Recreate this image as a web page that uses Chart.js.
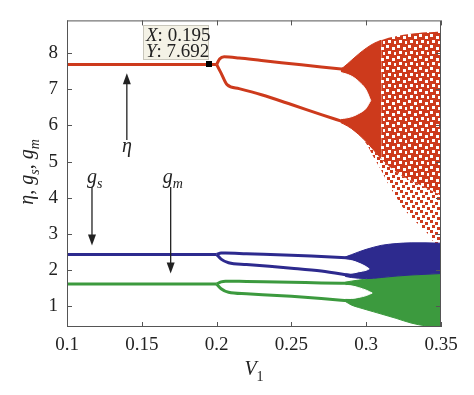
<!DOCTYPE html>
<html>
<head>
<meta charset="utf-8">
<script src="https://cdn.jsdelivr.net/npm/chart.js"></script>
<style>
  html, body { margin: 0; padding: 0; background: #fff; }
  #wrap { width: 474px; height: 395px; }
</style>
</head>
<body>
<div id="wrap"><canvas id="chart" width="474" height="395"></canvas></div>
<script>
// axis ticks
var X_TICKS = [0.1, 0.15, 0.2, 0.25, 0.3, 0.35];
var Y_TICKS = [1, 2, 3, 4, 5, 6, 7, 8];

// period-1 branch, V1 up to 0.2
var P1_V1 = [0.1, 0.2];
var P1_ETA = [7.692, 7.692];
var P1_GS = [2.43, 2.43];
var P1_GM = [1.61, 1.61];

// eta, period-2 branches
var ETA_UP_V1 = [0.200, 0.202, 0.205, 0.215, 0.23, 0.25, 0.27, 0.285];
var ETA_UP = [7.69, 7.84, 7.90, 7.87, 7.80, 7.71, 7.62, 7.56];
var ETA_LO_V1 = [0.200, 0.203, 0.207, 0.215, 0.23, 0.25, 0.27, 0.285];
var ETA_LO = [7.69, 7.45, 7.13, 7.02, 6.85, 6.58, 6.30, 6.10];

// eta, chaotic band: solid part then dotted part
var ETA_CH_V1 = [0.283, 0.285, 0.29, 0.295, 0.30, 0.305, 0.31];
var ETA_CH_TOP = [7.57, 7.62, 7.80, 7.98, 8.14, 8.27, 8.36];
var ETA_CH_BOT = [6.08, 6.04, 5.92, 5.75, 5.55, 5.32, 5.08];
var ETA_CH2_V1 = [0.31, 0.315, 0.32, 0.325, 0.33, 0.335, 0.34, 0.345, 0.35];
var ETA_CH2_TOP = [8.36, 8.43, 8.47, 8.51, 8.54, 8.56, 8.58, 8.59, 8.60];
var ETA_CH2_BOT = [5.08, 4.88, 4.72, 4.58, 4.47, 4.37, 4.27, 4.17, 4.05];
// lowest scattered eta points
var ETA_MIN_V1 = [0.295, 0.30, 0.305, 0.31, 0.315, 0.32, 0.325, 0.33, 0.335, 0.34, 0.345, 0.35];
var ETA_MIN_TOP = [5.75, 5.55, 5.32, 5.08, 4.88, 4.72, 4.58, 4.47, 4.37, 4.27, 4.17, 4.05];
var ETA_MIN = [5.75, 5.50, 5.12, 4.76, 4.36, 4.02, 3.70, 3.46, 3.26, 3.06, 2.78, 2.55];
// empty region inside the eta loop
var ETA_HOLE_V1 = [0.28, 0.29, 0.295, 0.30, 0.303];
var ETA_HOLE_TOP = [7.50, 7.37, 7.22, 6.98, 6.69];
var ETA_HOLE_BOT = [6.17, 6.24, 6.33, 6.48, 6.69];

// g_s
var GS_UP_V1 = [0.200, 0.203, 0.206, 0.22, 0.25, 0.27, 0.29];
var GS_UP = [2.43, 2.47, 2.47, 2.45, 2.41, 2.37, 2.33];
var GS_LO_V1 = [0.200, 0.203, 0.208, 0.22, 0.25, 0.27, 0.29];
var GS_LO = [2.43, 2.30, 2.20, 2.15, 2.05, 1.97, 1.84];
var CH_V1 = [0.286, 0.29, 0.295, 0.30, 0.305, 0.31, 0.315, 0.32, 0.33, 0.34, 0.35];
var GS_CH_TOP = [2.36, 2.42, 2.50, 2.57, 2.63, 2.68, 2.71, 2.73, 2.75, 2.75, 2.74];
var GS_CH_BOT = [1.82, 1.79, 1.77, 1.76, 1.77, 1.79, 1.81, 1.83, 1.86, 1.88, 1.90];
var GS_HOLE_V1 = [0.28, 0.29, 0.295, 0.30, 0.302];
var GS_HOLE_TOP = [2.31, 2.26, 2.19, 2.09, 2.03];
var GS_HOLE_BOT = [1.94, 1.91, 1.95, 1.99, 2.03];

// g_m
var GM_UP_V1 = [0.200, 0.203, 0.206, 0.22, 0.25, 0.27, 0.29];
var GM_UP = [1.61, 1.67, 1.69, 1.68, 1.66, 1.64, 1.63];
var GM_LO_V1 = [0.200, 0.203, 0.208, 0.22, 0.25, 0.27, 0.29];
var GM_LO = [1.61, 1.48, 1.38, 1.34, 1.27, 1.21, 1.14];
var GM_CH_TOP = [1.66, 1.69, 1.72, 1.75, 1.77, 1.79, 1.81, 1.83, 1.86, 1.88, 1.90];
var GM_CH_BOT = [1.13, 1.03, 0.96, 0.90, 0.84, 0.78, 0.72, 0.66, 0.53, 0.45, 0.42];
var GM_HOLE_V1 = [0.28, 0.29, 0.295, 0.30, 0.304];
var GM_HOLE_TOP = [1.59, 1.56, 1.51, 1.44, 1.36];
var GM_HOLE_BOT = [1.22, 1.21, 1.24, 1.29, 1.36];

// data tip
var TIP_V1 = 0.195;
var TIP_Y = 7.692;

var RED = '#cd3a1c';
var BLUE = '#2d2a8e';
var GREEN = '#3c9a3e';
var SERIF = '"Liberation Serif", "DejaVu Serif", serif';

Chart.defaults.font.family = SERIF;

var canvas = document.getElementById('chart');
var ctx = canvas.getContext('2d');

// tile of dots, to look like scattered map points
function dotPattern(color, tile, dots) {
  var c = document.createElement('canvas');
  c.width = tile; c.height = tile;
  var g = c.getContext('2d');
  g.fillStyle = color;
  dots.forEach(function (d) { g.fillRect(d[0], d[1], 3, 3); });
  return ctx.createPattern(c, 'repeat');
}
// mostly filled tile with a few gaps
function holePattern(color, tile, holes) {
  var c = document.createElement('canvas');
  c.width = tile; c.height = tile;
  var g = c.getContext('2d');
  g.fillStyle = color;
  g.fillRect(0, 0, tile, tile);
  holes.forEach(function (d) { g.clearRect(d[0], d[1], 3, 3); });
  return ctx.createPattern(c, 'repeat');
}

function pts(xs, ys) {
  return xs.map(function (x, i) { return {x: x, y: ys[i]}; });
}

function branch(xs, ys, color, order) {
  return {
    data: pts(xs, ys), borderColor: color, borderWidth: 3, pointRadius: 0,
    fill: false, order: order, cubicInterpolationMode: 'monotone'
  };
}

// two datasets: top edge filled down to the bottom edge
function band(xs, top, bot, color, fillStyle, order) {
  return [
    { data: pts(xs, top), borderColor: color || 'rgba(0,0,0,0)', borderWidth: color ? 1 : 0, pointRadius: 0,
      fill: '+1', backgroundColor: fillStyle, order: order, cubicInterpolationMode: 'monotone' },
    { data: pts(xs, bot), borderColor: color || 'rgba(0,0,0,0)', borderWidth: color ? 1 : 0, pointRadius: 0,
      fill: false, order: order, cubicInterpolationMode: 'monotone' }
  ];
}

var densePattern = holePattern(RED, 11, [[1, 1], [7, 3], [3, 7], [9, 8]]);
var sparsePattern = dotPattern(RED, 10, [[0, 0], [5, 2], [2, 5], [7, 7]]);

var datasets = [].concat(
  branch(P1_V1, P1_ETA, RED, 1),
  branch(ETA_UP_V1, ETA_UP, RED, 1),
  branch(ETA_LO_V1, ETA_LO, RED, 1),
  branch(P1_V1, P1_GS, BLUE, 1),
  branch(GS_UP_V1, GS_UP, BLUE, 1),
  branch(GS_LO_V1, GS_LO, BLUE, 1),
  branch(P1_V1, P1_GM, GREEN, 1),
  branch(GM_UP_V1, GM_UP, GREEN, 1),
  branch(GM_LO_V1, GM_LO, GREEN, 1),
  band(GS_HOLE_V1, GS_HOLE_TOP, GS_HOLE_BOT, '#fff', '#fff', 4),
  band(CH_V1, GS_CH_TOP, GS_CH_BOT, BLUE, BLUE, 5),
  band(GM_HOLE_V1, GM_HOLE_TOP, GM_HOLE_BOT, '#fff', '#fff', 6),
  band(CH_V1, GM_CH_TOP, GM_CH_BOT, GREEN, GREEN, 7),
  band(ETA_HOLE_V1, ETA_HOLE_TOP, ETA_HOLE_BOT, '#fff', '#fff', 8),
  band(ETA_CH_V1, ETA_CH_TOP, ETA_CH_BOT, RED, RED, 9),
  band(ETA_CH2_V1, ETA_CH2_TOP, ETA_CH2_BOT, null, densePattern, 10),
  band(ETA_MIN_V1, ETA_MIN_TOP, ETA_MIN, null, sparsePattern, 11)
);

// text made of pieces: {t, it, sub}
function fontFor(p, size) {
  return (p.it ? 'italic ' : '') + Math.round(p.sub ? size * 0.72 : size) + 'px ' + SERIF;
}
function drawRich(c, parts, x, y, size, align) {
  var w = 0;
  parts.forEach(function (p) { c.font = fontFor(p, size); w += c.measureText(p.t).width; });
  var cx = align === 'center' ? x - w / 2 : x;
  c.textAlign = 'left';
  c.textBaseline = 'alphabetic';
  parts.forEach(function (p) {
    c.font = fontFor(p, size);
    c.fillText(p.t, cx, p.sub ? y + size * 0.28 : y);
    cx += c.measureText(p.t).width;
  });
}

function arrow(c, x, y0, y1) {
  var dir = y1 > y0 ? 1 : -1;
  c.beginPath();
  c.moveTo(x, y0);
  c.lineTo(x, y1 - dir * 9);
  c.stroke();
  c.beginPath();
  c.moveTo(x, y1);
  c.lineTo(x - 4, y1 - dir * 11);
  c.lineTo(x + 4, y1 - dir * 11);
  c.closePath();
  c.fill();
}

var decor = {
  id: 'decor',
  afterDraw: function (chart) {
    var c = chart.ctx, a = chart.chartArea;
    var xs = chart.scales.x, ys = chart.scales.y;
    c.save();

    // box with inward ticks
    c.strokeStyle = '#555';
    c.lineWidth = 1;
    c.strokeRect(a.left + 0.5, a.top + 0.5, a.right - a.left - 1, a.bottom - a.top - 1);
    c.beginPath();
    X_TICKS.forEach(function (v) {
      var px = Math.round(xs.getPixelForValue(v)) + 0.5;
      c.moveTo(px, a.bottom); c.lineTo(px, a.bottom - 5);
      c.moveTo(px, a.top); c.lineTo(px, a.top + 5);
    });
    Y_TICKS.forEach(function (v) {
      var py = Math.round(ys.getPixelForValue(v)) + 0.5;
      c.moveTo(a.left, py); c.lineTo(a.left + 5, py);
      c.moveTo(a.right, py); c.lineTo(a.right - 5, py);
    });
    c.stroke();

    c.fillStyle = '#222';
    // axis titles
    drawRich(c, [{t: 'V', it: true}, {t: '1', sub: true}], (a.left + a.right) / 2, 375, 20, 'center');
    c.save();
    c.translate(33, 172);
    c.rotate(-Math.PI / 2);
    drawRich(c, [{t: 'η', it: true}, {t: ', '}, {t: 'g', it: true}, {t: 's', it: true, sub: true},
      {t: ', '}, {t: 'g', it: true}, {t: 'm', it: true, sub: true}], 0, 0, 20, 'center');
    c.restore();

    // arrows and labels
    c.strokeStyle = '#222';
    c.fillStyle = '#222';
    c.lineWidth = 1.3;
    var ax = xs.getPixelForValue(0.14);
    arrow(c, ax, ys.getPixelForValue(5.6), ys.getPixelForValue(7.45));
    drawRich(c, [{t: 'η', it: true}], ax, ys.getPixelForValue(5.27), 20, 'center');
    ax = xs.getPixelForValue(0.1167);
    arrow(c, ax, ys.getPixelForValue(4.3), ys.getPixelForValue(2.68));
    drawRich(c, [{t: 'g', it: true}, {t: 's', it: true, sub: true}], ax - 5, ys.getPixelForValue(4.42), 20, 'left');
    ax = xs.getPixelForValue(0.1693);
    arrow(c, ax, ys.getPixelForValue(4.3), ys.getPixelForValue(1.9));
    drawRich(c, [{t: 'g', it: true}, {t: 'm', it: true, sub: true}], ax - 8, ys.getPixelForValue(4.42), 20, 'left');

    // data tip
    var tx = xs.getPixelForValue(TIP_V1), ty = ys.getPixelForValue(TIP_Y);
    c.fillStyle = '#000';
    c.fillRect(Math.round(tx) - 3, Math.round(ty) - 3, 6, 6);
    var bx = Math.round(tx) - 66, by = Math.round(ty) - 39;
    c.fillStyle = '#f4f2e6';
    c.fillRect(bx, by, 66, 35);
    c.strokeStyle = '#c8c6bb';
    c.lineWidth = 1;
    c.strokeRect(bx + 0.5, by + 0.5, 65, 34);
    c.fillStyle = '#222';
    drawRich(c, [{t: 'X', it: true}, {t: ': ' + TIP_V1.toFixed(3)}], bx + 3, by + 16, 19, 'left');
    drawRich(c, [{t: 'Y', it: true}, {t: ': ' + TIP_Y.toFixed(3)}], bx + 3, by + 32, 19, 'left');
    c.restore();
  }
};

new Chart(canvas, {
  type: 'line',
  data: { datasets: datasets },
  options: {
    responsive: false,
    animation: false,
    layout: { padding: { top: 17, right: 33, left: 0, bottom: 0 } },
    plugins: { legend: { display: false }, tooltip: { enabled: false } },
    scales: {
      x: {
        type: 'linear', min: 0.1, max: 0.35,
        grid: { display: false, drawTicks: false },
        border: { display: false },
        afterBuildTicks: function (s) { s.ticks = X_TICKS.map(function (v) { return {value: v}; }); },
        afterFit: function (s) { s.height = 68; },
        ticks: { color: '#222', padding: 7, font: { family: SERIF, size: 19 },
          callback: function (v) { return String(v); } }
      },
      y: {
        min: 0.42, max: 8.91,
        grid: { display: false, drawTicks: false },
        border: { display: false },
        afterBuildTicks: function (s) { s.ticks = Y_TICKS.map(function (v) { return {value: v}; }); },
        afterFit: function (s) { s.width = 67; },
        ticks: { color: '#222', padding: 9, font: { family: SERIF, size: 19 },
          callback: function (v) { return String(v); } }
      }
    }
  },
  plugins: [decor]
});
</script>
</body>
</html>
